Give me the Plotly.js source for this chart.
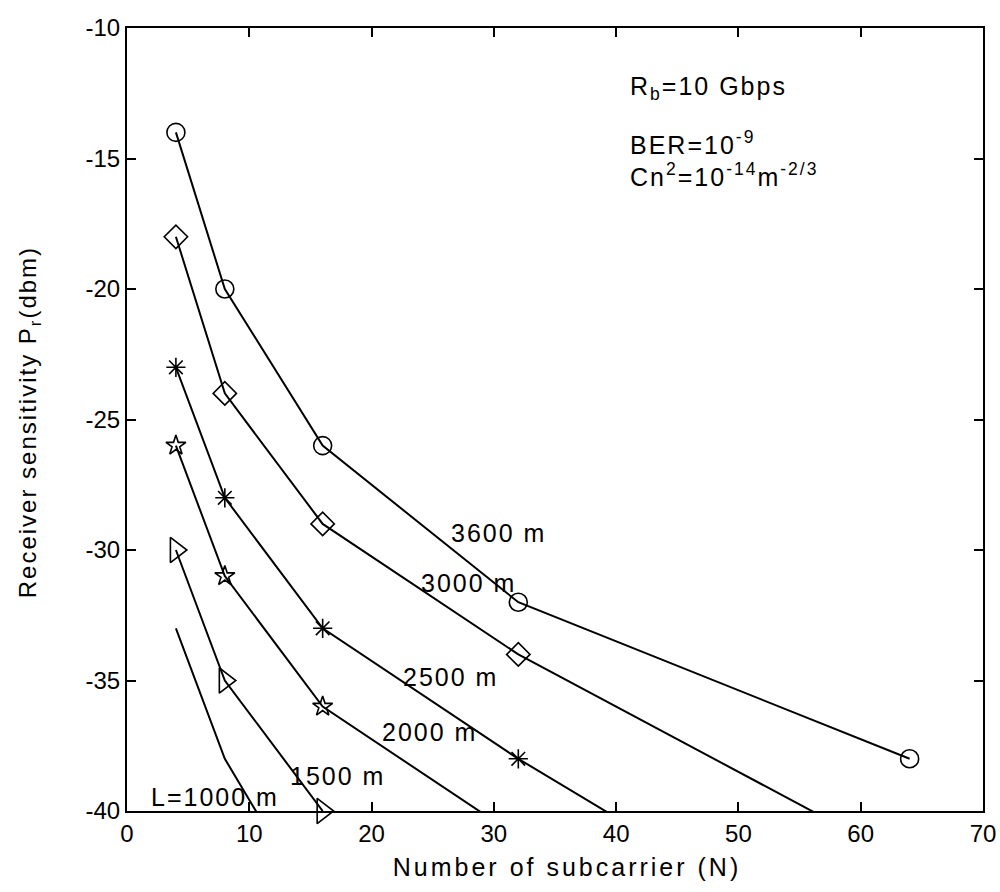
<!DOCTYPE html>
<html>
<head>
<meta charset="utf-8">
<script src="https://cdn.plot.ly/plotly-3.0.1.min.js"></script>
<style>
html,body{margin:0;padding:0;background:#fff;}
#chart{width:1000px;height:892px;}
#chart text.annotation-text{letter-spacing:2px;}
#chart text.xtitle{letter-spacing:3px;}
#chart g.g-xtitle{transform:translate(12px,0);}
</style>
</head>
<body>
<div id="chart"></div>
<script>
// Number of subcarriers
const subcarriers = [4, 8, 16, 32, 64];
// Receiver sensitivity (dBm) for each link length
const pr3600 = [-14, -20, -26, -32, -38];
const pr3000 = [-18, -24, -29, -34, -42];
const pr2500 = [-23, -28, -33, -38, -47];
const pr2000 = [-26, -31, -36, -41];
const pr1500 = [-30, -35, -40];
const pr1000 = [-33, -38, -44.3];

const seriesNames = ['3600 m', '3000 m', '2500 m', '2000 m', '1500 m', 'L=1000 m'];
const xTicks = [0, 10, 20, 30, 40, 50, 60, 70];
const yTicks = [-40, -35, -30, -25, -20, -15, -10];
const yTickText = ['-40', '-35', '-30', '-25', '-20', '-15', '-10'];

const FONT = 'Liberation Sans, Arial, sans-serif';
const SPACING = 2; // px letter spacing for text labels

function tr(y, sym, size, name, clip) {
  const t = {
    x: subcarriers.slice(0, y.length), y: y, name: name,
    type: 'scatter', mode: sym ? 'lines+markers' : 'lines',
    line: {color: '#000', width: 2},
    cliponaxis: clip !== false,
    showlegend: false
  };
  if (sym) t.marker = {symbol: sym, size: size, color: '#000', line: {color: '#000', width: 1.6}};
  return t;
}

const data = [
  tr(pr3600, 'circle-open', 18, seriesNames[0]),
  tr(pr3000, 'diamond-open', 18, seriesNames[1]),
  tr(pr2500, 'asterisk-open', 16, seriesNames[2]),
  tr(pr2000, 'star-open', 15, seriesNames[3]),
  tr(pr1500, 'triangle-right-open', 22, seriesNames[4], false),
  tr(pr1000, null, 0, seriesNames[5])
];

function visibleLen(t) { return t.replace(/<[^>]+>/g, '').length; }
const lbl = (text, x, y) => ({text: text, x: x, y: y, xref: 'x', yref: 'y', xanchor: 'left', yanchor: 'middle',
  xshift: visibleLen(text) * SPACING / 2, showarrow: false, font: {family: FONT, size: 25, color: '#000'}});

const layout = {
  width: 1000, height: 892,
  margin: {l: 127, r: 17, t: 28, b: 81},
  paper_bgcolor: '#fff', plot_bgcolor: '#fff',
  font: {family: FONT, size: 24, color: '#000'},
  xaxis: {
    range: [0, 70], tickvals: xTicks, ticks: 'inside', ticklen: 9, tickwidth: 2, tickcolor: '#000',
    showline: true, linecolor: '#000', linewidth: 2, mirror: 'ticks', showgrid: false, zeroline: false,
    tickfont: {family: FONT, size: 24, color: '#000'},
    title: {text: 'Number of subcarrier (N)', font: {family: FONT, size: 25, color: '#000'}, standoff: 13}
  },
  yaxis: {
    range: [-40, -10], tickvals: yTicks, ticktext: yTickText, ticks: 'inside', ticklen: 9, tickwidth: 2, tickcolor: '#000',
    showline: true, linecolor: '#000', linewidth: 2, mirror: 'ticks', showgrid: false, zeroline: false,
    tickfont: {family: FONT, size: 24, color: '#000'}
  },
  annotations: [
    {text: 'Receiver sensitivity P<sub>r</sub>(dbm)', xref: 'paper', yref: 'paper', x: -0.114, y: 0.497,
     textangle: -90, showarrow: false, xanchor: 'center', yanchor: 'middle', font: {family: FONT, size: 24, color: '#000'}},
    lbl(seriesNames[0], 26.3, -29.35),
    lbl(seriesNames[1], 23.9, -31.28),
    lbl(seriesNames[2], 22.4, -34.85),
    lbl(seriesNames[3], 20.7, -36.97),
    lbl(seriesNames[4], 13.2, -38.66),
    lbl(seriesNames[5], 1.78, -39.46),
    lbl('R<sub>b</sub>=10 Gbps', 41.0, -12.3),
    lbl('BER=10<sup>-9</sup>', 41.0, -14.4),
    lbl('Cn<sup>2</sup>=10<sup>-14</sup>m<sup>-2/3</sup>', 41.0, -15.65)
  ]
};

Plotly.newPlot('chart', data, layout, {displayModeBar: false, staticPlot: true});
</script>
</body>
</html>
